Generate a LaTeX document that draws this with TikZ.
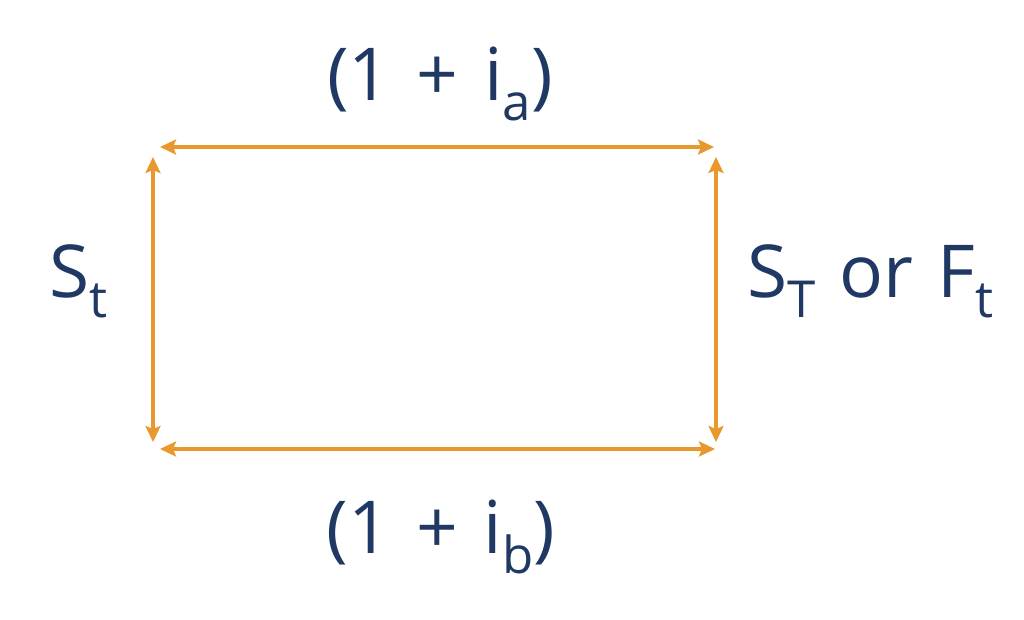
\documentclass[tikz,border=0pt]{standalone}
\usepackage{fontspec}
\setmainfont{Open Sans}
\usetikzlibrary{arrows.meta}
\definecolor{arroworange}{HTML}{E9982E}
\definecolor{textnavy}{HTML}{1F3864}
\newcommand\lowsub[1]{\raisebox{-20pt}{\fontsize{51}{51}\selectfont #1}}
\newcommand\gap{\hspace{26pt}}
\newcommand\wsp{\hspace{24pt}}
\tikzset{
  lbl/.style={inner sep=0pt, text=textnavy, font=\fontsize{73}{73}\selectfont},
  dbl/.style={draw=arroworange, line width=3.6pt, {Stealth[length=16pt,width=15pt,inset=3pt]}-{Stealth[length=16pt,width=15pt,inset=3pt]}}
}
\begin{document}
\begin{tikzpicture}[x=1pt,y=-1pt]
\useasboundingbox (0,0) rectangle (1024,619);
\coordinate (tl) at (160,147);
\coordinate (tr) at (714,147);
\coordinate (bl) at (160,449);
\coordinate (br) at (715,449);
\coordinate (lt) at (153,157);
\coordinate (lb) at (153,442);
\coordinate (rt) at (716,157);
\coordinate (rb) at (716,442);
\draw[dbl] (tl) -- (tr);
\draw[dbl] (bl) -- (br);
\draw[dbl] (lt) -- (lb);
\draw[dbl] (rt) -- (rb);
\node[lbl, anchor=base] (top) at (440,100) {(1\gap+\gap i\lowsub{a})};
\node[lbl, anchor=base] (bot) at (441,553) {(1\gap+\gap i\lowsub{b})};
\node[lbl, anchor=base west] (left) at (49,297) {S\lowsub{t}};
\node[lbl, anchor=base west] (right) at (747,297) {S\lowsub{T}\wsp or\wsp F\lowsub{t}};
\end{tikzpicture}
\end{document}
